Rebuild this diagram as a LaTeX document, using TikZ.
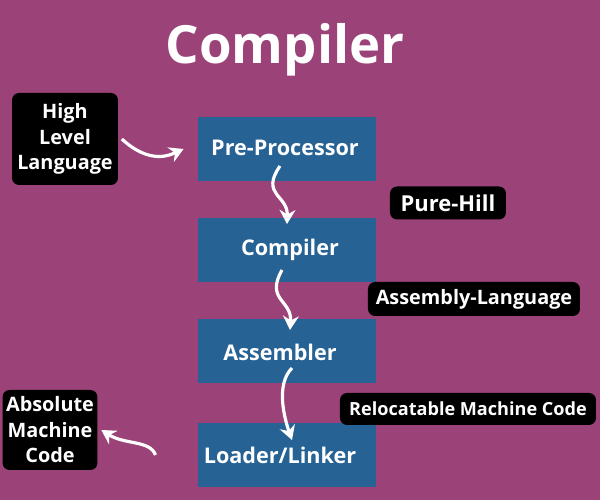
\documentclass[tikz,border=0pt]{standalone}
\usepackage{fontspec}
\setmainfont{Open Sans}
\usetikzlibrary{arrows.meta}
\definecolor{bg}{RGB}{155,67,120}
\definecolor{boxblue}{RGB}{38,98,148}
\begin{document}
\begin{tikzpicture}[x=0.02cm,y=-0.02cm,
  blue/.style={fill=boxblue,draw=none,minimum width=178*0.02cm,minimum height=64*0.02cm},
  btext/.style={text=white,font=\bfseries\fontsize{12.3}{15}\selectfont},
  tag/.style={fill=black,rounded corners=4pt,text=white,font=\bfseries\fontsize{11.3}{14.5}\selectfont,inner sep=3pt,align=center},
  arr/.style={draw=white,line width=1.8pt,-{Stealth[length=8pt,width=9pt]}}]
\useasboundingbox[fill=bg] (0,0) rectangle (600,500);
\node[text=white,font=\bfseries\fontsize{30}{36}\selectfont] (title) at (285,50) {Compiler};
\node[blue] (b1) at (287,149) {};
\node[btext] (t1) at (285,148) {Pre-Processor};
\node[blue] (b2) at (287,250) {};
\node[btext] (t2) at (290,250) {Compiler};
\node[blue] (b3) at (287,351) {};
\node[btext] (t3) at (280,352) {Assembler};
\node[blue] (b4) at (287,455) {};
\node[btext] (t4) at (280,455) {Loader/Linker};
\node[tag,minimum width=103*0.02cm,minimum height=92*0.02cm] (hll) at (65,139) {High\\Level\\Language};
\node[tag,minimum width=116*0.02cm,minimum height=33*0.02cm,font=\bfseries\fontsize{12.5}{15}\selectfont] (ph) at (448,203) {Pure-Hill};
\node[tag,minimum width=212*0.02cm,minimum height=34*0.02cm] (al) at (474,299) {Assembly-Language};
\node[tag,minimum width=256*0.02cm,minimum height=32*0.02cm,font=\bfseries\fontsize{10.3}{14}\selectfont] (rmc) at (468,409) {Relocatable Machine Code};
\node[tag,minimum width=94*0.02cm,minimum height=80*0.02cm,inner sep=2pt] (amc) at (50,430) {Absolute\\Machine\\Code};
\coordinate (s1) at (280,166); \coordinate (e1) at (287,224);
\coordinate (s2) at (282,270); \coordinate (e2) at (290,330);
\coordinate (s3) at (292,368); \coordinate (e3) at (292,440);
\draw[arr] ([xshift=2]hll.east) .. controls (150,165) and (170,155) .. ([xshift=-8]b1.west);
\draw[arr] (s1) .. controls (260,195) and (288,195) .. (e1);
\draw[arr] (s2) .. controls (265,300) and (292,300) .. (e2);
\draw[arr] (s3) .. controls (275,385) and (285,420) .. (e3);
\draw[arr] ([xshift=-24]b4.west) .. controls (150,440) and (125,445) .. ([xshift=2]amc.east);
\end{tikzpicture}
\end{document}
